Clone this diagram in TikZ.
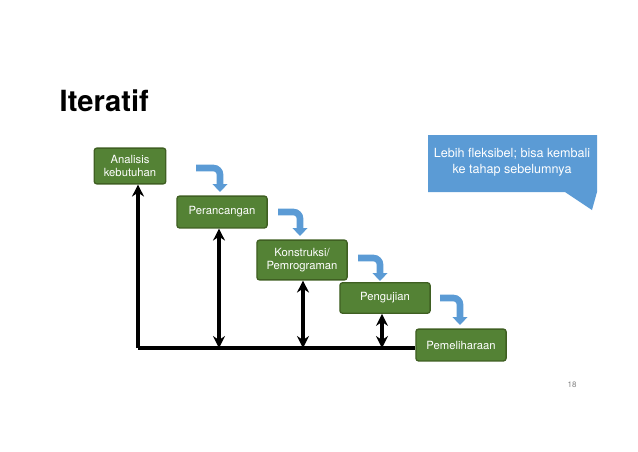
\documentclass[tikz,border=0pt]{standalone}
\usepackage{fontspec}
\setmainfont{TeX Gyre Heros}
\usetikzlibrary{arrows.meta}
\definecolor{gbox}{HTML}{548235}
\definecolor{gedge}{HTML}{3F5F22}
\definecolor{bl}{HTML}{5B9BD5}
\begin{document}
\begin{tikzpicture}[x=0.0265cm,y=-0.0265cm,
 box/.style={draw=gedge,line width=1pt,fill=gbox,rounded corners=2pt,text=white,font=\fontsize{8.5}{10}\selectfont,align=center,inner sep=1pt,minimum width=68pt},
 barr/.style={draw=bl,line width=5pt,rounded corners=5pt,-{Triangle[length=6pt,width=11pt]}},
 karr/.style={line width=2.3pt,-{Stealth[length=9pt,width=9pt]}},
 dkarr/.style={line width=2.3pt,{Stealth[length=9pt,width=9pt]}-{Stealth[length=9pt,width=9pt]}}]
\useasboundingbox (0,0) rectangle (638,451);
\node[anchor=west,font=\bfseries\fontsize{22}{26}\selectfont] (t) at (55,101) {Iteratif};
\node[box,minimum width=54pt,minimum height=27pt] (a) at (130,166) {Analisis\\kebutuhan};
\node[box,minimum height=24pt] (b) at (222,212) {Perancangan};
\node[box,minimum height=30pt] (c) at (302,260) {Konstruksi/\\Pemrograman};
\node[box,minimum height=23pt] (d) at (385,298) {Pengujian};
\node[box,minimum height=24pt] (e) at (461,345) {Pemeliharaan};
\coordinate (p0) at (138,348); \coordinate (p4) at (415,348);
\draw[line width=2.3pt] (p0) -- (p4);
\draw[karr] (p0) -- (a.south -| p0);
\coordinate (q1) at (219,348); \coordinate (q2) at (303,348); \coordinate (q3) at (382,348);
\draw[dkarr] (q1) -- (b.south -| q1);
\draw[dkarr] (q2) -- (c.south -| q2);
\draw[dkarr] (q3) -- (d.south -| q3);
\coordinate (s1) at (196,168); \coordinate (s2) at (278,212); \coordinate (s3) at (358,258); \coordinate (s4) at (440,298);
\draw[barr] (s1) -- (220,168) -- (220,192);
\draw[barr] (s2) -- (300,212) -- (300,236);
\draw[barr] (s3) -- (380,258) -- (380,281);
\draw[barr] (s4) -- (460,298) -- (460,325);
\fill[bl] (428,135) -- (597,135) -- (597,192) -- (592,210) -- (565,192) -- (428,192) -- cycle;
\node[text=white,align=center,font=\fontsize{9.5}{12}\selectfont] (cl) at (512,162) {Lebih fleksibel; bisa kembali\\ke tahap sebelumnya};
\node[text=gray,font=\fontsize{6}{7}\selectfont] (n) at (572,385) {18};
\end{tikzpicture}
\end{document}
